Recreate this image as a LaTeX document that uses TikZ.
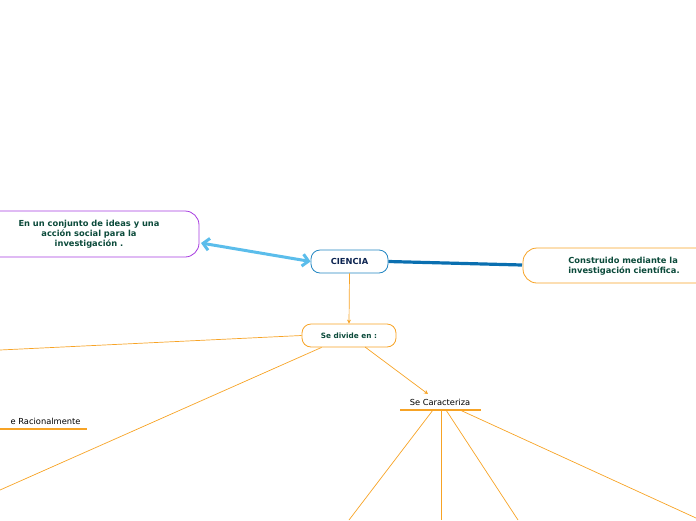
\documentclass[tikz,border=0pt]{standalone}
\usepackage{fontspec}
\setmainfont{DejaVu Sans}
\usetikzlibrary{arrows.meta}
\definecolor{org}{HTML}{F7A325}
\definecolor{txt}{HTML}{0B4A3A}
\definecolor{navy}{HTML}{0C2350}
\definecolor{lblue}{HTML}{5BBDEB}
\definecolor{dblue}{HTML}{0A6FB0}
\definecolor{purp}{HTML}{A73CE0}
\tikzset{
 box/.style={draw, rounded corners=11pt, fill=white, font=\bfseries\fontsize{8.3}{10}\selectfont, text=txt, align=center, line width=0.8pt},
 plain/.style={font=\fontsize{8.3}{10}\selectfont, text=black},
 br/.style={draw=org, line width=0.7pt},
}
\begin{document}
\begin{tikzpicture}[x=1pt,y=-1pt]
\useasboundingbox (0,0) rectangle (696,520);
\begin{scope}
\clip (0,0) rectangle (696,520);
\draw[purp, line width=0.8pt, rounded corners=14pt, fill=white] (-30,211) rectangle (199,257);
\node[box, draw=none, text=txt] (L) at (89,234) {En un conjunto de ideas y una\\acción social para la\\investigación .};
\draw[org, line width=0.8pt, rounded corners=14pt, fill=white] (523,248) rectangle (720,283);
\node[box, draw=none, align=left] (R) at (624,266) {Construido mediante la\\investigación científica.};
\node[box, draw=dblue!70!lblue, text=navy, minimum width=77pt, minimum height=23pt, rounded corners=9pt] (C) at (349.5,261.5) {CIENCIA};
\node[box, draw=org, minimum width=94pt, minimum height=23pt, rounded corners=9pt, font=\bfseries\fontsize{7.3}{9}\selectfont] (S) at (349,335.5) {Se divide en :};
\node[plain] (SC) at (440,402) {Se Caracteriza};
\node[plain, anchor=east] (ER) at (84,421) {e Racionalmente};
\coordinate (SCl) at (400,410); \coordinate (SCr) at (481,410);
\draw[org, line width=1.5pt] (SCl) -- (SCr);
\draw[org, line width=1.5pt] (0,429) -- (87,429);
\draw[lblue, line width=3pt, {Straight Barb[length=6pt,width=12pt]}-{Straight Barb[length=6pt,width=12pt]}] (L.east)+(112,10) ++(0,0) (201,243) -- (C.west);
\draw[dblue, line width=3.2pt] (C.east) -- (522,265);
\draw[br, -{Stealth[length=4pt,width=4pt]}] (C.south) -- (S.north);
\draw[br] (S.west) -- (0,350);
\draw[br] (S.south west)+(20,0) -- (0,490);
\draw[br, -{Stealth[length=4pt,width=4pt]}] (365,347) -- (428,394);
\draw[br] (433,410) -- (349,520);
\draw[br] (441,410) -- (441,520);
\draw[br] (446,410) -- (518,520);
\draw[br] (460,410) -- (696,518);
\end{scope}
\end{tikzpicture}
\end{document}
